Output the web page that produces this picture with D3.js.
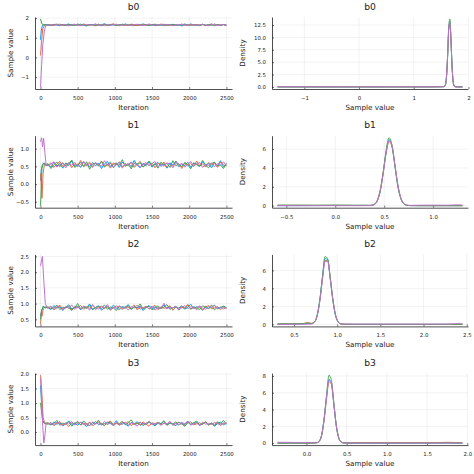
<!DOCTYPE html>
<html>
<head>
<meta charset="utf-8">
<script src="https://cdn.jsdelivr.net/npm/d3@7"></script>
<style>
  body { margin: 0; background: #fff; }
  svg text { font-family: "DejaVu Sans", sans-serif; fill: #222; }
</style>
</head>
<body>
<div id="chart-area"></div>
<script>
// MCMC chains: trace (left) and density (right) for each parameter

var params = ["b0", "b1", "b2", "b3"];
var chainColors = ["#009AFA", "#E36F47", "#3EA44E", "#C371D2"];
var iterTicks = [0, 500, 1000, 1500, 2000, 2500];
var nIter = 2500;
var traceStart = 100;   // first iteration of the *Trace arrays, spread evenly up to nIter

// ---- b0 ----
var b0Burn = [
  [[1, 0.9], [10, 1.35], [25, 1.62], [50, 1.66], [75, 1.64]],
  [[1, 0.1], [12, 0.7], [30, 1.45], [55, 1.63], [80, 1.66]],
  [[1, 1.95], [8, 1.85], [20, 1.70], [45, 1.65], [75, 1.67]],
  [[1, -1.5], [15, -0.4], [30, 0.6], [50, 1.3], [70, 1.62], [85, 1.65]]
];
var b0Trace = [
  [1.66,1.63,1.68,1.64,1.61,1.67,1.65,1.70,1.62,1.66,1.64,1.69,1.63,1.60,1.67,1.65,1.68,1.62,1.66,1.71,1.64,1.63,1.67,1.65,1.61,1.69,1.66,1.63,1.68,1.64,1.62,1.66,1.70,1.65,1.63,1.67,1.61,1.66,1.64,1.69,1.62,1.65,1.68,1.63,1.66,1.60,1.67,1.64,1.70,1.65,1.62,1.66,1.68,1.63,1.65,1.69,1.61,1.66,1.64,1.67,1.65],
  [1.64,1.67,1.62,1.66,1.69,1.63,1.65,1.61,1.68,1.64,1.66,1.62,1.70,1.65,1.63,1.67,1.60,1.66,1.64,1.68,1.62,1.66,1.71,1.63,1.65,1.67,1.62,1.64,1.69,1.66,1.61,1.65,1.67,1.63,1.68,1.64,1.66,1.62,1.70,1.65,1.63,1.67,1.61,1.66,1.64,1.69,1.63,1.65,1.67,1.62,1.68,1.64,1.66,1.61,1.65,1.70,1.63,1.67,1.64,1.66,1.62],
  [1.65,1.62,1.67,1.69,1.64,1.66,1.61,1.68,1.65,1.63,1.70,1.64,1.66,1.62,1.67,1.65,1.63,1.69,1.61,1.66,1.64,1.68,1.65,1.62,1.67,1.63,1.70,1.66,1.64,1.61,1.68,1.65,1.63,1.67,1.62,1.66,1.69,1.64,1.65,1.61,1.67,1.63,1.68,1.66,1.62,1.65,1.70,1.64,1.63,1.67,1.65,1.61,1.68,1.64,1.66,1.62,1.69,1.65,1.63,1.67,1.64],
  [1.63,1.66,1.64,1.68,1.62,1.65,1.67,1.61,1.66,1.69,1.63,1.65,1.62,1.68,1.64,1.66,1.70,1.63,1.65,1.61,1.67,1.64,1.66,1.69,1.62,1.65,1.63,1.67,1.61,1.66,1.68,1.64,1.62,1.65,1.70,1.63,1.66,1.64,1.67,1.62,1.68,1.65,1.61,1.66,1.63,1.69,1.64,1.66,1.62,1.67,1.65,1.63,1.68,1.64,1.61,1.66,1.69,1.63,1.65,1.67,1.64]
];
var b0DensX = [-1.49, -1.0, -0.5, 0, 0.5, 1.0, 1.3, 1.5, 1.55, 1.58, 1.60, 1.62, 1.64, 1.66, 1.68, 1.70, 1.72, 1.74, 1.77, 1.80, 1.89];
var b0Dens = [
  [0.03,0.02,0.02,0.02,0.03,0.04,0.03,0.05,0.06,0.5,2.3,6.5,11.7,13.2,9.6,4.3,1.2,0.2,0.02,0.01,0.0],
  [0.02,0.03,0.03,0.04,0.03,0.03,0.04,0.06,0.08,0.6,2.5,6.8,11.8,12.9,9.2,4.0,1.1,0.2,0.02,0.0,0.0],
  [0.0,0.0,0.0,0.0,0.0,0.0,0.0,0.02,0.05,0.4,2.1,6.4,12.2,13.7,9.8,4.2,1.0,0.18,0.02,0.05,0.04],
  [0.04,0.03,0.02,0.02,0.02,0.03,0.02,0.04,0.06,0.5,2.4,6.7,12.0,13.0,9.3,4.1,1.1,0.2,0.02,0.0,0.0]
];
var b0ValueTicks = [-1, 0, 1, 2];
var b0DensTicks = [0, 2.5, 5, 7.5, 10, 12.5];

// ---- b1 ----
var b1Burn = [
  [[1, 0.1], [10, 0.4], [25, 0.55], [50, 0.6], [75, 0.52]],
  [[1, 0.3], [10, 0.0], [20, -0.4], [35, 0.3], [55, 0.58], [80, 0.55]],
  [[1, -0.61], [10, -0.1], [20, 0.45], [40, 0.6], [70, 0.53]],
  [[1, 1.2], [15, 1.31], [28, 1.05], [42, 1.3], [58, 0.9], [75, 0.56]]
];
var b1Trace = [
  [0.56,0.48,0.62,0.51,0.58,0.45,0.60,0.53,0.66,0.50,0.57,0.47,0.63,0.55,0.49,0.61,0.52,0.59,0.44,0.57,0.64,0.50,0.55,0.60,0.47,0.62,0.53,0.58,0.49,0.67,0.54,0.46,0.59,0.52,0.63,0.48,0.56,0.61,0.50,0.58,0.45,0.60,0.54,0.65,0.49,0.57,0.52,0.62,0.47,0.59,0.55,0.50,0.63,0.53,0.58,0.46,0.61,0.52,0.66,0.49,0.56],
  [0.53,0.60,0.47,0.57,0.64,0.50,0.55,0.61,0.46,0.58,0.52,0.67,0.49,0.56,0.62,0.48,0.59,0.53,0.65,0.51,0.57,0.45,0.60,0.54,0.63,0.49,0.58,0.52,0.61,0.47,0.56,0.64,0.50,0.57,0.53,0.60,0.46,0.59,0.55,0.62,0.48,0.56,0.51,0.63,0.57,0.44,0.60,0.53,0.58,0.50,0.65,0.52,0.57,0.48,0.61,0.54,0.59,0.47,0.62,0.55,0.51],
  [0.58,0.44,0.55,0.62,0.49,0.60,0.52,0.57,0.68,0.47,0.54,0.61,0.50,0.63,0.42,0.56,0.59,0.51,0.64,0.48,0.55,0.62,0.46,0.58,0.53,0.69,0.50,0.57,0.43,0.60,0.54,0.61,0.48,0.56,0.65,0.51,0.58,0.45,0.62,0.53,0.59,0.47,0.66,0.52,0.57,0.49,0.61,0.55,0.43,0.60,0.56,0.50,0.67,0.53,0.46,0.58,0.62,0.51,0.55,0.44,0.59],
  [0.51,0.57,0.63,0.48,0.55,0.60,0.46,0.58,0.53,0.62,0.49,0.56,0.64,0.51,0.58,0.47,0.61,0.55,0.50,0.66,0.53,0.59,0.48,0.56,0.62,0.45,0.57,0.54,0.63,0.50,0.59,0.47,0.55,0.61,0.52,0.58,0.64,0.49,0.56,0.51,0.60,0.57,0.46,0.62,0.53,0.59,0.48,0.55,0.64,0.51,0.57,0.61,0.47,0.56,0.53,0.60,0.49,0.58,0.54,0.63,0.52]
];
var b1DensX = [-0.59, -0.4, -0.2, 0.0, 0.2, 0.3, 0.36, 0.40, 0.43, 0.46, 0.49, 0.52, 0.55, 0.58, 0.61, 0.64, 0.67, 0.70, 0.73, 0.76, 0.85, 1.0, 1.15, 1.25, 1.30];
var b1Dens = [
  [0.0,0.0,0.01,0.02,0.02,0.03,0.02,0.14,0.55,1.6,3.5,5.7,7.0,6.3,4.2,2.1,0.8,0.22,0.05,0.01,0.0,0.0,0.0,0.0,0.0],
  [0.02,0.04,0.03,0.03,0.02,0.02,0.03,0.15,0.58,1.7,3.6,5.6,6.8,6.2,4.3,2.2,0.8,0.23,0.05,0.01,0.0,0.0,0.0,0.0,0.0],
  [0.07,0.06,0.05,0.07,0.05,0.05,0.04,0.12,0.5,1.55,3.5,5.9,7.2,6.4,4.2,2.0,0.75,0.2,0.04,0.01,0.0,0.0,0.0,0.0,0.0],
  [0.0,0.0,0.0,0.0,0.0,0.0,0.01,0.13,0.52,1.6,3.4,5.6,6.9,6.4,4.3,2.15,0.8,0.24,0.06,0.03,0.05,0.06,0.05,0.1,0.06]
];
var b1ValueTicks = [-0.5, 0, 0.5, 1];
var b1DensTicks = [0, 2, 4, 6];

// ---- b2 ----
var b2Burn = [
  [[1, 0.6], [15, 0.8], [40, 0.9], [70, 0.87]],
  [[1, 0.34], [10, 0.7], [20, 0.6], [40, 0.85], [70, 0.9]],
  [[1, 0.5], [15, 0.75], [35, 0.92], [65, 0.86]],
  [[1, 2.2], [12, 2.35], [25, 2.5], [45, 1.7], [65, 1.0], [85, 0.88]]
];
var b2Trace = [
  [0.88,0.81,0.94,0.85,0.91,0.78,0.89,0.96,0.83,0.87,0.92,0.80,0.90,0.86,0.99,0.82,0.88,0.93,0.79,0.87,0.91,0.84,0.95,0.86,0.81,0.90,0.88,0.97,0.83,0.89,0.85,0.92,0.78,0.88,0.94,0.84,0.90,0.82,0.87,0.96,0.85,0.91,0.80,0.89,0.86,0.93,0.82,0.88,0.98,0.84,0.90,0.87,0.79,0.92,0.85,0.89,0.95,0.83,0.88,0.91,0.86],
  [0.85,0.92,0.80,0.88,0.95,0.83,0.90,0.86,0.78,0.91,0.87,0.94,0.82,0.89,0.85,0.97,0.81,0.88,0.92,0.84,0.90,0.79,0.87,0.93,0.86,0.82,0.91,0.88,0.84,0.96,0.80,0.89,0.86,0.92,0.83,0.88,0.95,0.81,0.90,0.85,0.87,0.93,0.79,0.89,0.84,0.91,0.86,0.98,0.82,0.88,0.85,0.92,0.80,0.89,0.94,0.83,0.87,0.90,0.81,0.88,0.85],
  [0.90,0.84,0.87,0.95,0.81,0.89,0.86,0.92,0.79,0.88,1.00,0.83,0.90,0.85,0.93,0.80,0.87,0.91,0.84,0.96,0.82,0.89,0.86,0.78,0.92,0.88,0.85,0.94,0.81,0.90,0.87,0.99,0.83,0.88,0.92,0.80,0.86,0.93,0.84,0.89,0.97,0.82,0.87,0.91,0.79,0.88,0.85,0.94,0.83,0.90,0.86,0.81,0.93,0.88,0.84,0.96,0.80,0.89,0.86,0.92,0.87],
  [0.86,0.90,0.83,0.93,0.87,0.80,0.91,0.85,0.96,0.82,0.88,0.84,0.92,0.89,0.79,0.94,0.86,0.83,0.90,0.87,0.97,0.81,0.88,0.85,0.93,0.84,0.89,0.80,0.91,0.86,0.95,0.82,0.87,0.90,0.84,0.92,0.79,0.88,0.85,1.01,0.83,0.89,0.86,0.92,0.81,0.87,0.94,0.84,0.90,0.88,0.80,0.93,0.86,0.82,0.91,0.87,0.95,0.84,0.89,0.83,0.88]
];
var b2DensX = [0.31, 0.45, 0.55, 0.62, 0.66, 0.70, 0.74, 0.77, 0.80, 0.83, 0.86, 0.89, 0.92, 0.95, 0.98, 1.01, 1.04, 1.08, 1.2, 1.5, 1.8, 2.1, 2.3, 2.42, 2.45];
var b2Dens = [
  [0.0,0.02,0.05,0.08,0.1,0.08,0.3,1.1,2.8,5.3,7.3,7.2,5.1,2.7,1.0,0.3,0.06,0.01,0.0,0.0,0.0,0.0,0.0,0.0,0.0],
  [0.05,0.06,0.06,0.12,0.2,0.12,0.32,1.0,2.7,5.1,7.1,7.1,5.2,2.8,1.1,0.3,0.05,0.01,0.0,0.0,0.0,0.0,0.0,0.0,0.0],
  [0.06,0.05,0.06,0.1,0.14,0.1,0.28,1.05,2.75,5.3,7.55,7.3,5.2,2.7,1.05,0.28,0.06,0.01,0.0,0.0,0.0,0.0,0.0,0.0,0.0],
  [0.0,0.0,0.0,0.0,0.02,0.03,0.28,1.0,2.6,5.0,7.0,7.0,5.0,2.8,1.1,0.32,0.07,0.03,0.03,0.03,0.03,0.03,0.04,0.12,0.08]
];
var b2ValueTicks = [0.5, 1, 1.5, 2, 2.5];
var b2DensTicks = [0, 2, 4, 6];

// ---- b3 ----
var b3Burn = [
  [[1, 1.6], [15, 1.0], [30, 0.4], [60, 0.3]],
  [[1, 1.96], [15, 1.5], [35, 0.5], [60, 0.28]],
  [[1, 1.0], [15, 0.7], [30, 0.35], [60, 0.3]],
  [[1, 1.85], [15, 1.2], [30, 0.2], [45, -0.38], [60, -0.1], [75, 0.3]]
];
var b3Trace = [
  [0.30,0.24,0.35,0.27,0.32,0.21,0.29,0.38,0.26,0.31,0.23,0.34,0.28,0.19,0.33,0.27,0.36,0.25,0.30,0.22,0.35,0.29,0.26,0.39,0.24,0.31,0.28,0.20,0.33,0.27,0.36,0.23,0.30,0.26,0.34,0.29,0.21,0.32,0.28,0.37,0.25,0.31,0.27,0.22,0.34,0.29,0.26,0.38,0.24,0.30,0.33,0.23,0.28,0.35,0.26,0.31,0.20,0.29,0.34,0.25,0.30],
  [0.27,0.33,0.22,0.30,0.36,0.25,0.29,0.19,0.32,0.28,0.37,0.24,0.31,0.26,0.34,0.21,0.29,0.35,0.27,0.23,0.32,0.38,0.26,0.30,0.24,0.33,0.28,0.36,0.22,0.29,0.31,0.25,0.35,0.27,0.20,0.32,0.28,0.34,0.24,0.30,0.26,0.37,0.23,0.29,0.33,0.27,0.21,0.31,0.35,0.25,0.28,0.32,0.26,0.36,0.23,0.30,0.27,0.34,0.24,0.29,0.31],
  [0.32,0.26,0.29,0.40,0.23,0.31,0.27,0.35,0.20,0.30,0.34,0.25,0.38,0.28,0.22,0.33,0.29,0.41,0.24,0.30,0.27,0.35,0.21,0.32,0.28,0.37,0.25,0.31,0.42,0.26,0.29,0.34,0.22,0.30,0.36,0.27,0.24,0.33,0.29,0.39,0.23,0.31,0.28,0.35,0.25,0.30,0.20,0.34,0.27,0.32,0.38,0.24,0.29,0.33,0.26,0.31,0.22,0.35,0.28,0.40,0.27],
  [0.28,0.31,0.25,0.34,0.29,0.22,0.32,0.27,0.36,0.24,0.30,0.33,0.26,0.29,0.21,0.35,0.28,0.31,0.25,0.37,0.27,0.30,0.23,0.33,0.29,0.26,0.35,0.24,0.31,0.28,0.20,0.34,0.27,0.30,0.36,0.25,0.29,0.32,0.23,0.31,0.28,0.35,0.26,0.30,0.24,0.33,0.29,0.37,0.25,0.28,0.31,0.22,0.34,0.27,0.30,0.26,0.33,0.29,0.24,0.32,0.28]
];
var b3DensX = [-0.36, -0.2, -0.05, 0.05, 0.10, 0.13, 0.16, 0.19, 0.22, 0.25, 0.28, 0.31, 0.34, 0.37, 0.40, 0.43, 0.46, 0.50, 0.7, 1.0, 1.3, 1.6, 1.75, 1.94];
var b3Dens = [
  [0.0,0.0,0.0,0.01,0.02,0.05,0.25,1.0,2.9,5.5,7.6,7.1,4.6,2.1,0.65,0.13,0.02,0.0,0.0,0.0,0.01,0.02,0.01,0.0],
  [0.0,0.0,0.0,0.0,0.01,0.04,0.24,0.95,2.8,5.3,7.3,7.0,4.7,2.2,0.7,0.15,0.03,0.03,0.04,0.05,0.04,0.06,0.09,0.04],
  [0.0,0.0,0.0,0.0,0.01,0.04,0.22,1.0,3.0,5.8,8.1,7.5,4.8,2.1,0.64,0.13,0.02,0.0,0.0,0.0,0.0,0.0,0.0,0.0],
  [0.1,0.08,0.06,0.05,0.03,0.05,0.25,1.05,2.9,5.6,7.5,7.2,4.7,2.1,0.66,0.14,0.02,0.0,0.0,0.0,0.0,0.0,0.0,0.0]
];
var b3ValueTicks = [0, 0.5, 1, 1.5, 2];
var b3DensTicks = [0, 2, 4, 6, 8];

var panels = [
  { name: params[0], burn: b0Burn, trace: b0Trace, densX: b0DensX, dens: b0Dens, valueTicks: b0ValueTicks, densTicks: b0DensTicks },
  { name: params[1], burn: b1Burn, trace: b1Trace, densX: b1DensX, dens: b1Dens, valueTicks: b1ValueTicks, densTicks: b1DensTicks },
  { name: params[2], burn: b2Burn, trace: b2Trace, densX: b2DensX, dens: b2Dens, valueTicks: b2ValueTicks, densTicks: b2DensTicks },
  { name: params[3], burn: b3Burn, trace: b3Trace, densX: b3DensX, dens: b3Dens, valueTicks: b3ValueTicks, densTicks: b3DensTicks }
];

// layout
var W = 474, H = 474;
var colLeft = [35, 272], colWidth = [197, 196];
var rowTop = 17, rowStep = 118.7, panelHeight = 72;

var svg = d3.select("#chart-area")
  .append("svg")
    .attr("width", W)
    .attr("height", H);

// Plots.jl style: 3% padding on each side of the data extent
const pad = (ext) => {
  const p = (ext[1] - ext[0]) * 0.03;
  return [ext[0] - p, ext[1] + p];
};

const tickFmt = (ticks) => {
  const dec = ticks.some((t) => t % 1 !== 0);
  return (t) => (dec ? t.toFixed(1) : String(t)).replace("-", "\u2212");
};

const drawFrame = (g, x, y, w, h, xTicks, yTicks, title, xLabel) => {
  // grid
  g.append("g")
    .selectAll("line").data(xTicks).enter().append("line")
      .attr("x1", (d) => x(d)).attr("x2", (d) => x(d))
      .attr("y1", 0).attr("y2", h)
      .attr("stroke", "#000").attr("stroke-opacity", 0.1).attr("stroke-width", 0.5);
  g.append("g")
    .selectAll("line").data(yTicks).enter().append("line")
      .attr("x1", 0).attr("x2", w)
      .attr("y1", (d) => y(d)).attr("y2", (d) => y(d))
      .attr("stroke", "#000").attr("stroke-opacity", 0.1).attr("stroke-width", 0.5);

  const xAxis = g.append("g")
    .attr("transform", "translate(0, " + h + ")")
    .call(d3.axisBottom(x).tickValues(xTicks).tickFormat(tickFmt(xTicks))
      .tickSizeInner(-2).tickSizeOuter(0).tickPadding(7));
  const yAxis = g.append("g")
    .call(d3.axisLeft(y).tickValues(yTicks).tickFormat(tickFmt(yTicks))
      .tickSizeInner(-2).tickSizeOuter(0).tickPadding(6));

  [xAxis, yAxis].forEach((a) => {
    a.select(".domain").attr("stroke", "#222").attr("stroke-width", 0.8);
    a.selectAll(".tick line").attr("stroke", "#222").attr("stroke-width", 0.6);
    a.selectAll(".tick text")
      .attr("font-size", "5.4px")
      .attr("font-family", "DejaVu Sans, sans-serif")
      .attr("fill", "#222");
  });

  // title
  g.append("text")
    .attr("x", w / 2).attr("y", -7.5)
    .attr("text-anchor", "middle")
    .attr("font-size", "9.2px")
    .text(title);

  // X label
  g.append("text")
    .attr("x", w / 2).attr("y", h + 21)
    .attr("text-anchor", "middle")
    .attr("font-size", "7.2px")
    .text(xLabel);
};

panels.forEach((p, i) => {
  var top = rowTop + i * rowStep;
  var h = panelHeight;

  // ----- trace -----
  var w = colWidth[0];
  var g = svg.append("g")
    .attr("transform", "translate(" + colLeft[0] + ", " + top + ")");

  var chains = p.trace.map((vals, c) => {
    var n = vals.length;
    return p.burn[c].concat(vals.map((v, k) => [traceStart + k * (nIter - traceStart) / (n - 1), v]));
  });

  var x = d3.scaleLinear().domain(pad([1, nIter])).range([0, w]);
  var y = d3.scaleLinear()
    .domain(pad(d3.extent(d3.merge(chains), (d) => d[1])))
    .range([h, 0]);

  drawFrame(g, x, y, w, h, iterTicks, p.valueTicks, p.name, "Iteration");

  var line = d3.line().x((d) => x(d[0])).y((d) => y(d[1]));
  g.selectAll("path.chain").data(chains).enter().append("path")
    .attr("class", "chain")
    .attr("d", line)
    .attr("fill", "none")
    .attr("stroke", (d, c) => chainColors[c])
    .attr("stroke-width", 1)
    .attr("stroke-linejoin", "round");

  // Y label
  svg.append("text")
    .attr("transform", "translate(10, " + (top + h / 2) + ") rotate(-90)")
    .attr("text-anchor", "middle")
    .attr("dy", "0.35em")
    .attr("font-size", "7.2px")
    .text("Sample value");

  // ----- density -----
  var w2 = colWidth[1];
  var g2 = svg.append("g")
    .attr("transform", "translate(" + colLeft[1] + ", " + top + ")");

  var x2 = d3.scaleLinear().domain(pad(d3.extent(p.densX))).range([0, w2]);
  var y2 = d3.scaleLinear()
    .domain(pad([0, d3.max(p.dens, (arr) => d3.max(arr))]))
    .range([h, 0]);

  drawFrame(g2, x2, y2, w2, h, p.valueTicks, p.densTicks, p.name, "Sample value");

  var dline = d3.line()
    .x((d, k) => x2(p.densX[k]))
    .y((d) => y2(d))
    .curve(d3.curveMonotoneX);
  g2.selectAll("path.dens").data(p.dens).enter().append("path")
    .attr("class", "dens")
    .attr("d", dline)
    .attr("fill", "none")
    .attr("stroke", (d, c) => chainColors[c])
    .attr("stroke-width", 0.9);

  svg.append("text")
    .attr("transform", "translate(242, " + (top + h / 2) + ") rotate(-90)")
    .attr("text-anchor", "middle")
    .attr("dy", "0.35em")
    .attr("font-size", "7.2px")
    .text("Density");
});
</script>
</body>
</html>
